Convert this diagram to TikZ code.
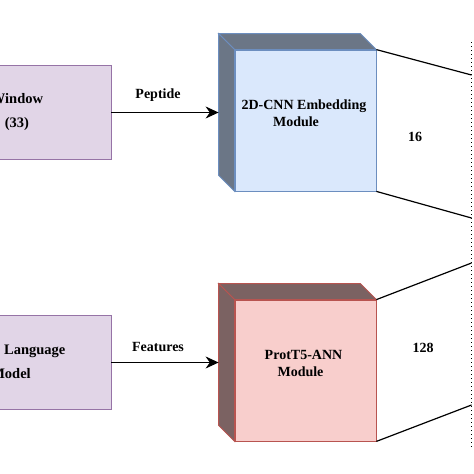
\documentclass[tikz,border=0pt]{standalone}
\usepackage{fontspec}
\setmainfont{Liberation Serif}
\usetikzlibrary{arrows.meta,calc}
\definecolor{lavf}{HTML}{E1D5E7}
\definecolor{lavb}{HTML}{9673A6}
\definecolor{bluef}{HTML}{DAE8FC}
\definecolor{blueb}{HTML}{6C8EBF}
\definecolor{blues}{HTML}{6B7686}
\definecolor{redf}{HTML}{F8CECC}
\definecolor{redb}{HTML}{B85450}
\definecolor{reds}{HTML}{7B6262}
\tikzset{
  txt/.style={font=\bfseries\fontsize{14}{17}\selectfont, inner sep=0pt, align=center},
  inbox/.style={draw=lavb, fill=lavf, line width=0.8pt, minimum height=94pt, inner sep=0pt, align=center, font=\bfseries\fontsize{14.5}{24}\selectfont},
  front/.style={minimum width=141pt, minimum height=141pt, inner sep=0pt, line width=0.8pt},
  conn/.style={line width=1.2pt, black},
  arr/.style={line width=1.2pt, black, -{Stealth[length=13pt,width=12pt]}},
}
\begin{document}
\begin{tikzpicture}[x=1pt,y=-1pt]
\useasboundingbox (0,0) rectangle (474,474);
\clip (0,0) rectangle (474,474);
\fill[white] (0,0) rectangle (474,474);

% input boxes
\node[inbox, minimum width=188pt] (win) at (17,112) {Window\\(33)};
\node[inbox, minimum width=200pt] (lang) at (11,362) {ProtT5 Language\\Model};

% cube 1
\node[front, draw=blueb, fill=bluef] (cnn) at (305.5,120.5) {};
\filldraw[draw=blueb, fill=blues, line width=0.8pt]
  (cnn.north west) -- ($(cnn.north west)+(-16,-16)$) -- ($(cnn.north east)+(-16,-16)$)
  -- (cnn.north east) -- cycle;
\filldraw[draw=blueb, fill=blues, line width=0.8pt]
  (cnn.north west) -- ($(cnn.north west)+(-16,-16)$) -- ($(cnn.south west)+(-16,-16)$)
  -- (cnn.south west) -- cycle;
\node[txt] (cnnlbl) at (304,113) {2D-CNN Embedding\\Module\hspace*{16pt}};
\coordinate (cnnin) at ($(cnn.west)+(-16,-8)$);

% cube 2
\node[front, draw=redb, fill=redf] (ann) at (305.5,370.5) {};
\filldraw[draw=redb, fill=reds, line width=0.8pt]
  (ann.north west) -- ($(ann.north west)+(-16,-16)$) -- ($(ann.north east)+(-16,-16)$)
  -- (ann.north east) -- cycle;
\filldraw[draw=redb, fill=reds, line width=0.8pt]
  (ann.north west) -- ($(ann.north west)+(-16,-16)$) -- ($(ann.south west)+(-16,-16)$)
  -- (ann.south west) -- cycle;
\node[txt] (annlbl) at (303.5,363) {ProtT5-ANN\\\hspace*{-6pt}Module};
\coordinate (annin) at ($(ann.west)+(-16,-8)$);

% arrows
\draw[arr] (win.east |- cnnin) -- (cnnin) node[txt, midway, above=10pt, xshift=-7pt] (pep) {Peptide};
\draw[arr] (lang.east |- annin) -- (annin) node[txt, midway, above=10pt, xshift=-7pt] (feat) {Features};

% dotted layer
\coordinate (dtop) at (471.5,42);
\coordinate (dbot) at (471.5,447);
\draw[line width=1.3pt, dash pattern=on 1.3pt off 2.7pt] (dtop) -- (dbot);
\coordinate (c1) at (471.5,75);
\coordinate (c2) at (471.5,218);
\coordinate (c3) at (471.5,263);
\coordinate (c4) at (471.5,405);
\draw[conn] (cnn.north east) -- (c1);
\draw[conn] (cnn.south east) -- (c2);
\draw[conn] (ann.north east) -- (c3);
\draw[conn] (ann.south east) -- (c4);
\node[txt] (n16) at (415,137) {16};
\node[txt] (n128) at (423,348) {128};
\end{tikzpicture}
\end{document}
